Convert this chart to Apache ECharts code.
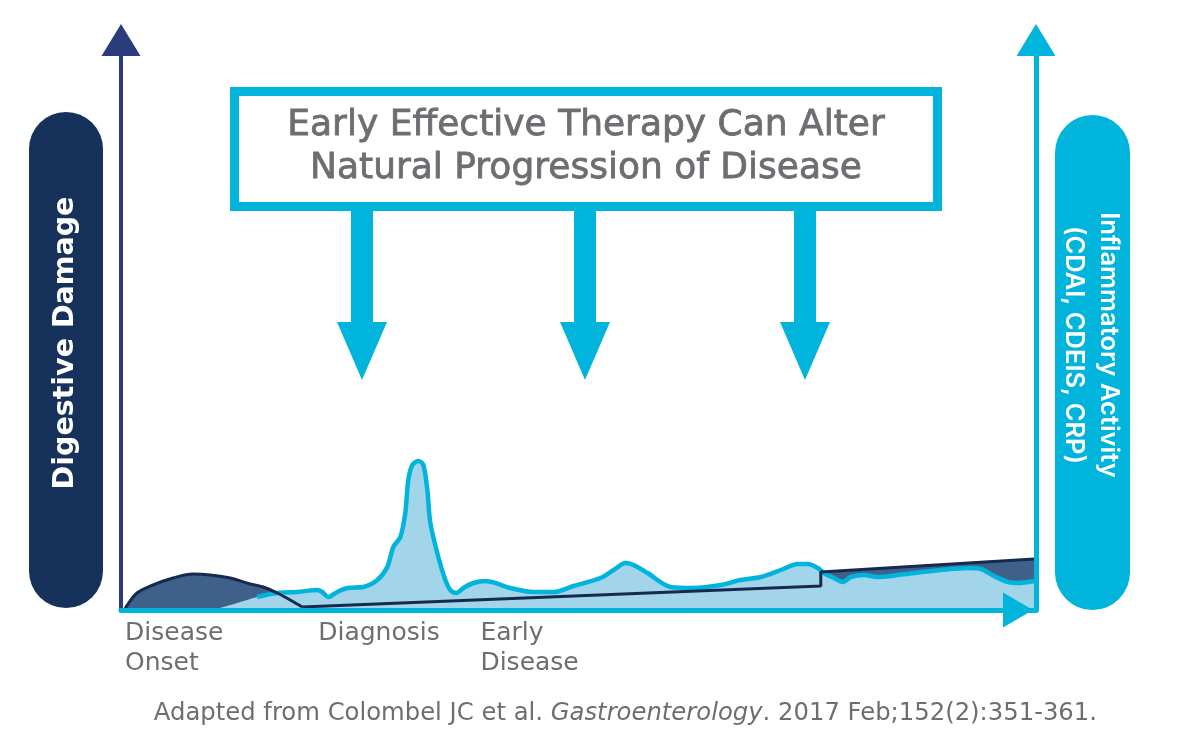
<!DOCTYPE html>
<html><head><meta charset="utf-8">
<style>html,body{margin:0;padding:0;background:#fff}#c{width:1200px;height:755px}</style>
<script src="https://cdn.jsdelivr.net/npm/echarts@6/dist/echarts.min.js"></script>
</head><body><div id="c"></div>
<script>
// ---- data ----
const milestoneLabels = ['Disease\nOnset', 'Diagnosis', 'Early\nDisease'];
const milestoneX = [0.44, 21.55, 39.28];
const inflammatoryActivity = [
  [10.07,0],[12.69,1.4],[14.88,2.6],[17.07,3.4],[19.26,3.6],[21.44,4.0],[21.99,3.6],[22.65,2.6],
  [23.63,3.6],[24.73,4.4],[26.48,4.6],[28.01,6.0],[29.10,8.6],[29.76,12.6],[30.53,14.6],[31.07,19.4],
  [31.40,26],[31.84,29],[32.49,29.8],[33.04,29],[33.48,24],[33.81,17.4],[34.68,10.6],[35.45,6],
  [36.00,4],[36.65,3.4],[37.42,4.4],[38.51,5.4],[39.82,5.8],[40.92,5.4],[42.56,4.4],[45.08,3.6],
  [47.26,3.6],[49.45,4.8],[52.41,6.4],[53.83,8],[55.14,9.4],[56.02,9],[57.55,7.4],[60.07,4.6],
  [62.58,4.4],[65.54,5],[67.72,6],[69.91,6.6],[72.10,8],[73.96,9.2],[75.05,9.2],[76.15,8.4],
  [76.81,7.4],[77.90,6.4],[78.88,5.6],[79.76,6.6],[81.18,7],[82.71,6.6],[84.14,6.8],[86.65,7.4],
  [89.61,8],[92.56,8.4],[93.98,8.2],[95.40,6.8],[96.94,5.6],[98.03,5.4],[99.78,5.8]
];
const damageEarly = [
  [0.4,0],[0.55,0.6],[1.75,3.4],[3.5,5.0],[5.69,6.4],[7.88,7.2],[9.74,7.0],[11.93,6.4],
  [14.11,5.2],[15.54,4.6],[17.07,3.4],[18.49,2.0],[19.8,0.6]
];
const damageLate = [[19.8,0.6],[76.48,4.8],[76.48,7.6],[99.78,10.2]];
const titleLines = ['Early Effective Therapy Can Alter', 'Natural Progression of Disease'];
const leftAxisTitle = 'Digestive Damage';
const rightAxisTitle = ['Inflammatory Activity', '(CDAI, CDEIS, CRP)'];
const therapyArrowX = [362, 585, 805];

// ---- styles ----
const CYAN = '#00b4dc', NAVY = '#16325a', AXISNAVY = '#2b3c7c', LIGHT = '#a2d4ea', DARKFILL = '#3f6189', DARKLINE = '#16294f', GRAY = '#6d6e71';
const WIDE = '"DejaVu Sans", Verdana, sans-serif';
const FONT = 'Inter, "Open Sans", sans-serif';

const chart = echarts.init(document.getElementById('c'));

function downArrow(cx) {
  return {
    type: 'polygon', z: 10,
    shape: { points: [[cx-11,207],[cx+11,207],[cx+11,322],[cx+25,322],[cx,380],[cx-25,322],[cx-11,322]] },
    style: { fill: CYAN }
  };
}

const graphics = [
  { type:'rect', z:1, shape:{x:29,y:112,width:74,height:496,r:37}, style:{fill:NAVY} },
  { type:'text', z:2, x:66, y:343, rotation:Math.PI/2,
    style:{ text:leftAxisTitle, fill:'#fff', fontFamily:WIDE, fontWeight:'bold', fontSize:28.5, align:'center', verticalAlign:'middle' } },
  { type:'rect', z:1, shape:{x:1055,y:115,width:75,height:495,r:37.5}, style:{fill:CYAN} },
  { type:'text', z:2, x:1091, y:345, rotation:-Math.PI/2,
    style:{ text:rightAxisTitle.join('\n'), fill:'#fff', fontFamily:FONT, fontWeight:600, fontSize:25.5, lineHeight:35, align:'center', verticalAlign:'middle' } },
  { type:'rect', z:10, shape:{x:234.5,y:91.5,width:703,height:115}, style:{fill:'#fff', stroke:CYAN, lineWidth:9} },
  { type:'text', z:11, x:586, y:147,
    style:{ text:titleLines.join('\n'), fill:GRAY, stroke:GRAY, lineWidth:0.8, fontFamily:WIDE, fontSize:36, lineHeight:43, align:'center', verticalAlign:'middle' } },
  { type:'text', z:11, x:1097, y:714,
    style:{ text:'{n|Adapted from Colombel JC et al. }{i|Gastroenterology}{n|. 2017 Feb;152(2):351-361.}',
      align:'right', verticalAlign:'middle',
      rich:{ n:{fill:GRAY, fontFamily:WIDE, fontSize:24.3}, i:{fill:GRAY, fontFamily:WIDE, fontSize:24.3, fontStyle:'italic'} } } }
].concat(therapyArrowX.map(downArrow));

chart.setOption({
  animation: false,
  backgroundColor: '#fff',
  grid: { left: 121, right: 164, top: 40, bottom: 145, containLabel: false },
  xAxis: {
    type: 'value', min: 0, max: 100, z: 5,
    splitLine: { show: false }, axisTick: { show: false },
    axisLine: { show: true, onZero: false, symbol: ['none','triangle'], symbolSize: [35, 30], symbolOffset: [0, -18],
      lineStyle: { color: CYAN, width: 5 } },
    axisLabel: {
      customValues: milestoneX,
      formatter: function (v) { const i = milestoneX.indexOf(v); return i >= 0 ? milestoneLabels[i] : ''; },
      align: 'left', verticalAlign: 'top', margin: 8,
      color: GRAY, fontFamily: WIDE, fontSize: 25, lineHeight: 30
    }
  },
  yAxis: [
    { type:'value', min:0, max:114, position:'left', z:5,
      splitLine:{show:false}, axisTick:{show:false}, axisLabel:{show:false},
      axisLine:{ show:true, symbol:['none','triangle'], symbolSize:[39,32], lineStyle:{color:AXISNAVY, width:4} } },
    { type:'value', min:0, max:114, position:'right', z:5,
      splitLine:{show:false}, axisTick:{show:false}, axisLabel:{show:false},
      axisLine:{ show:true, symbol:['none','triangle'], symbolSize:[39,32], lineStyle:{color:CYAN, width:5} } }
  ],
  series: [
    { type:'line', data:damageEarly, smooth:0.35, symbol:'none', z:1, lineStyle:{width:0}, areaStyle:{color:DARKFILL, opacity:1} },
    { type:'line', data:damageLate, smooth:false, symbol:'none', z:1, lineStyle:{width:0}, areaStyle:{color:DARKFILL, opacity:1} },
    { type:'line', data:inflammatoryActivity, smooth:0.3, symbol:'none', z:2, lineStyle:{width:0}, areaStyle:{color:LIGHT, opacity:1} },
    { type:'line', data:inflammatoryActivity.slice(2), smooth:0.3, symbol:'none', z:3, lineStyle:{color:CYAN, width:4.5} },
    { type:'line', data:damageEarly, smooth:0.35, symbol:'none', z:4, lineStyle:{color:DARKLINE, width:3} },
    { type:'line', data:damageLate, smooth:false, symbol:'none', z:4, lineStyle:{color:DARKLINE, width:3} }
  ],
  graphic: { elements: graphics }
});
</script></body></html>
